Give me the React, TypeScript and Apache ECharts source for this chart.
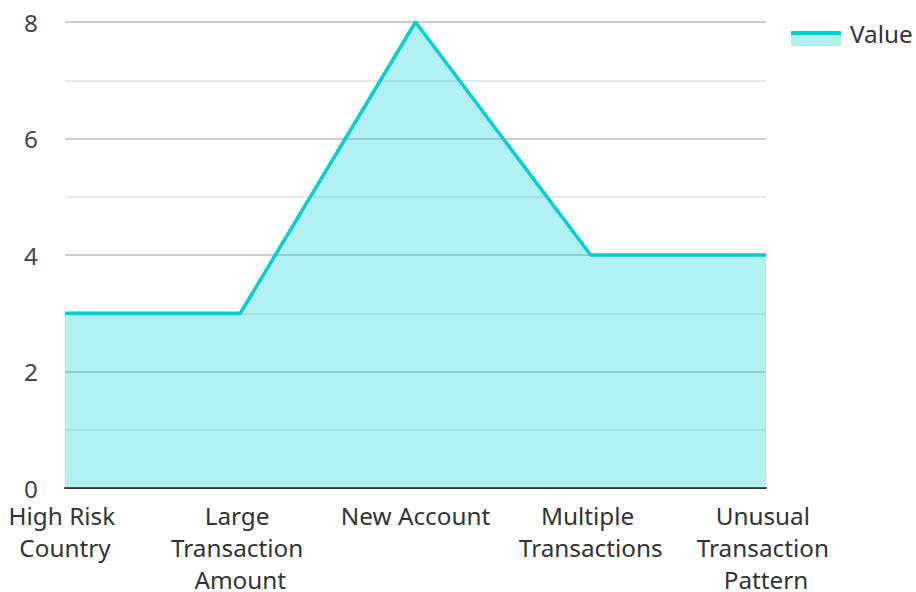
import React, { useEffect, useRef } from "react";
import * as echarts from "echarts";

const categories = [
  "High Risk Country",
  "Large Transaction Amount",
  "New Account",
  "Multiple Transactions",
  "Unusual Transaction Pattern",
];
const values = [3, 3, 8, 4, 4];
const seriesName = "Value";

export default function App() {
  const ref = useRef<HTMLDivElement>(null);
  useEffect(() => {
    if (!ref.current) return;
    const chart = echarts.init(ref.current, null, { renderer: "svg" });
    const font = "'Noto Sans', 'Open Sans', sans-serif";
    chart.setOption({
      animation: false,
      textStyle: { fontFamily: font },
      grid: {
        left: 65,
        right: 150,
        top: 22,
        bottom: 104,
        containLabel: false,
        outerBoundsMode: "none",
      },
      legend: {
        data: [seriesName],
        left: 791,
        top: 21,
        padding: 0,
        itemWidth: 50,
        itemHeight: 25,
        itemGap: 9,
        icon: "rect",
        itemStyle: {
          color: new echarts.graphic.LinearGradient(0, 0, 0, 1, [
            { offset: 0, color: "rgba(255,255,255,0)" },
            { offset: 0.4, color: "rgba(255,255,255,0)" },
            { offset: 0.4, color: "#00CED1" },
            { offset: 0.55, color: "#00CED1" },
            { offset: 0.55, color: "#B2EFEF" },
            { offset: 1, color: "#B2EFEF" },
          ]),
        },
        textStyle: {
          fontSize: 24.3,
          color: "#333",
          fontFamily: font,
          padding: [0, 0, 0, 4],
        },
      },
      xAxis: {
        type: "category",
        data: categories,
        boundaryGap: false,
        axisLine: { lineStyle: { color: "#333", width: 2 } },
        axisTick: { show: false },
        axisLabel: {
          interval: 0,
          fontSize: 24.3,
          lineHeight: 32,
          color: "#333",
          margin: 11,
          width: 165,
          overflow: "break",
          fontFamily: font,
        },
      },
      yAxis: {
        type: "value",
        min: 0,
        max: 8,
        interval: 2,
        axisLine: { show: false },
        axisTick: { show: false },
        axisLabel: { fontSize: 24.3, color: "#444", margin: 27, fontFamily: font },
        splitLine: { lineStyle: { color: "#ccc", width: 2 } },
        minorTick: { show: false, splitNumber: 2 },
        minorSplitLine: { show: true, lineStyle: { color: "#e8e8e8", width: 2 } },
      },
      series: [
        {
          name: seriesName,
          type: "line",
          data: values,
          showSymbol: false,
          symbol: "none",
          lineStyle: { color: "#00CED1", width: 3.5 },
          itemStyle: { color: "#00CED1" },
          areaStyle: { color: "#00CED1", opacity: 0.3 },
          z: 3,
        },
      ],
    });
    return () => chart.dispose();
  }, []);
  return (
    <div
      ref={ref}
      style={{ position: "absolute", left: 0, top: 0, width: 916, height: 592 }}
    />
  );
}
